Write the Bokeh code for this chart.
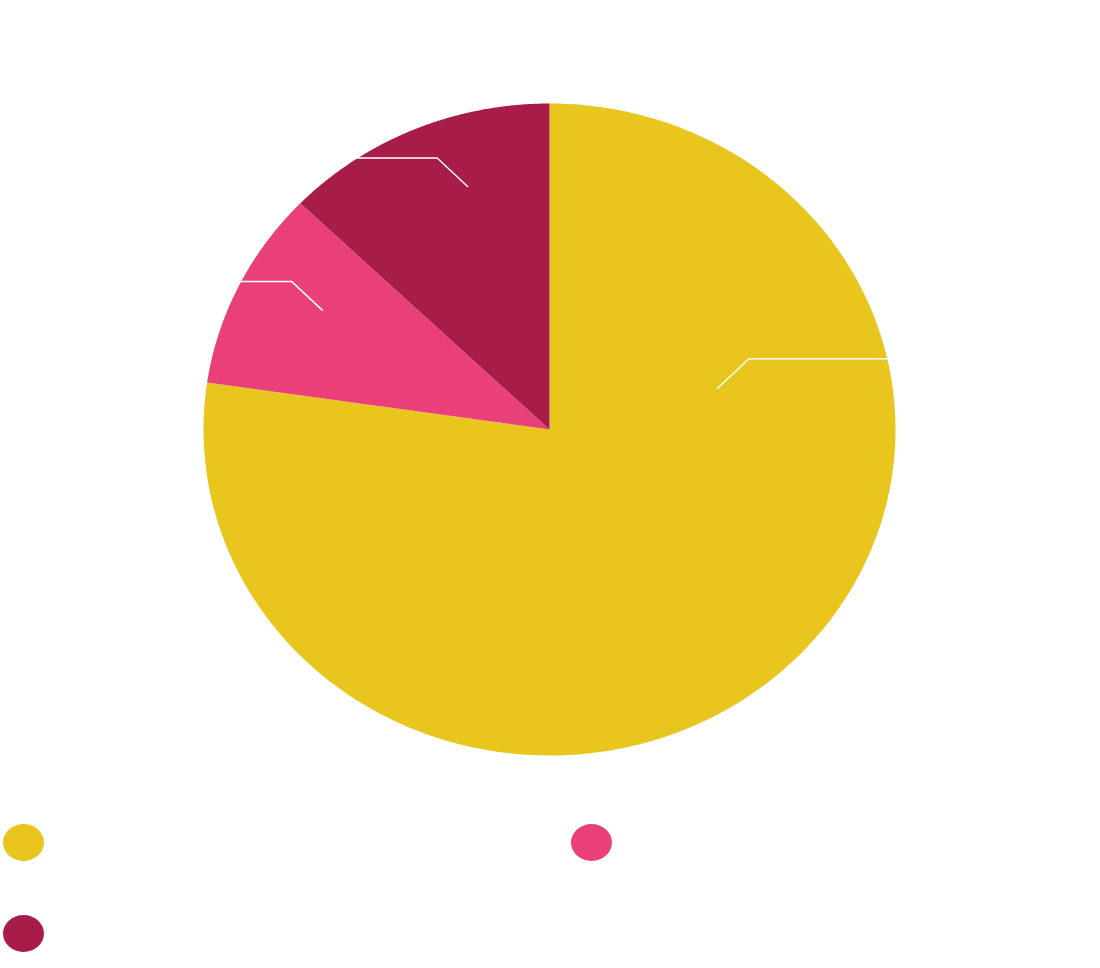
import numpy as np
from bokeh.plotting import figure
from bokeh.models import Range1d, ColumnDataSource
from bokeh.core.properties import value
from bokeh.embed import file_html
from bokeh.resources import INLINE

# data (share of 2017 expenses)
title = "2017 FUNCTIONAL EXPENSES"
categories = ["PROGRAM SERVICES", "FUNDRAISING AND DEVELOPMENT", "GENERAL AND ADMINISTRATIVE"]
shares = [77.3, 9.9, 12.8]
colors = ["#e8c61e", "#ea407a", "#a81c48"]

# layout in canvas pixels (y pointing down)
cx, cy, rx, ry = 549, 429, 346, 326
W, H = 1084, 952
# where each leader line starts: (angle shift from slice middle, radius fraction)
label_pos = [(None, 0.5), (3, 0.75), (5.5, 0.78)]

p = figure(width=W, height=H, output_backend="svg", toolbar_location=None,
           x_range=Range1d(0, W), y_range=Range1d(H, 0),
           min_border=0)
p.axis.visible = False
p.grid.visible = False
p.outline_line_color = None
p.background_fill_color = "white"

def pt(theta, f=1.0):
    # theta in degrees clockwise from 12 o'clock
    t = np.radians(theta)
    return cx + f * rx * np.sin(t), cy - f * ry * np.cos(t)

total = sum(shares)
starts = np.cumsum([0] + shares[:-1]) / total * 360
ends = np.cumsum(shares) / total * 360

xs, ys = [], []
for a0, a1 in zip(starts, ends):
    th = np.linspace(a0, a1, 200)
    ex, ey = pt(th)
    xs.append([cx] + list(ex))
    ys.append([cy] + list(ey))
p.patches(xs, ys, fill_color=colors, line_color=None)

# leader lines and (white) slice labels
anchors = []
for i, (a0, a1) in enumerate(zip(starts, ends)):
    shift, f = label_pos[i]
    if shift is None:
        anchors.append(pt(75.5, f))   # big slice: label pulled to the right side
    else:
        anchors.append(pt((a0 + a1) / 2 + shift, f))
for i, (ax, ay) in enumerate(anchors):
    if i == 0:
        ex, ey = ax + 32, ay - 30
        lx = 1080
        p.line([ax, ex, lx], [ay, ey, ey], line_color="white", line_width=1.5)
        p.text([lx], [ey - 6], text=["%.1f%%" % shares[i]], text_align="right",
               text_baseline="bottom", text_color="white", text_font=value("Open Sans"),
               text_font_style="bold", text_font_size="20px")
    else:
        ex, ey = ax - 31, ay - 29
        lx = 0
        p.line([ax, ex, lx], [ay, ey, ey], line_color="white", line_width=1.5)
        p.text([5], [ey - 20], text=["%.1f%%" % shares[i]], text_align="left",
               text_baseline="bottom", text_color="white", text_font=value("Open Sans"),
               text_font_style="bold", text_font_size="20px")

# title
p.text([512], [4], text=[title], text_align="center", text_baseline="top",
       text_color="white", text_font=value("Open Sans"), text_font_style="bold",
       text_font_size="22px")

# legend
leg_x = [23, 591, 23]
leg_y = [842, 842, 933]
src = ColumnDataSource(dict(x=leg_x, y=leg_y, c=colors, t=categories,
                            tx=[v + 52 for v in leg_x]))
p.ellipse("x", "y", width=41, height=37, fill_color="c", line_color=None, source=src)
p.text("tx", "y", text="t", text_baseline="middle", text_color="white",
       text_font=value("Open Sans"), text_font_style="bold", text_font_size="22px",
       source=src)

open("out.html", "w").write(file_html(p, INLINE))
